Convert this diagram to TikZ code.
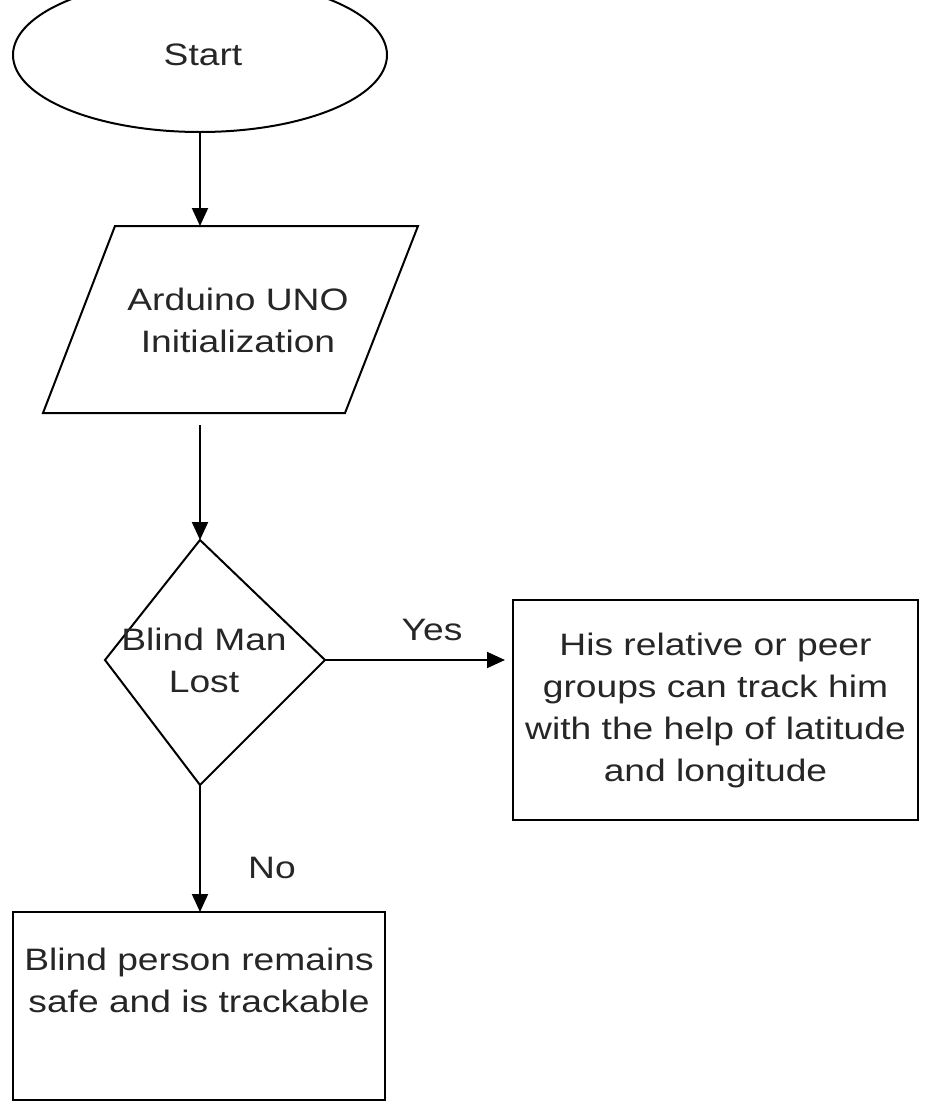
\documentclass[tikz,border=0pt]{standalone}
\usepackage{fontspec}
\setmainfont[FakeStretch=1.2]{Liberation Sans}
\usetikzlibrary{shapes.geometric,arrows.meta}
\begin{document}
\begin{tikzpicture}[x=1pt,y=-1pt,
  every node/.style={font=\fontsize{31}{42}\selectfont, text=black!85, align=center},
  line/.style={line width=2pt, draw=black},
  arr/.style={line width=2pt, -{Triangle[length=18pt,width=16pt]}}]
\useasboundingbox (0,0) rectangle (927,1103);
\begin{scope}
\clip (0,0) rectangle (927,1103);
\draw[line] (200,55) ellipse [x radius=187, y radius=77];
\end{scope}
\node (start) at (203,55) {Start};
\coordinate (startb) at (200,132);
\draw[line] (115,226) -- (418,226) -- (345,413) -- (43,413) -- cycle;
\node (init) at (238,320) {Arduino UNO\\Initialization};
\coordinate (initt) at (200,226);
\coordinate (initb) at (200,425);
\draw[line] (200,540) -- (325,660) -- (200,785) -- (105,660) -- cycle;
\node (dec) at (204,660) {Blind Man\\Lost};
\coordinate (dt) at (200,540);
\coordinate (dr) at (325,660);
\coordinate (db) at (200,785);
\node[draw, line width=2pt, minimum width=405pt, minimum height=220pt] (track) at (715.5,710) {His relative or peer\\groups can track him\\with the help of latitude\\and longitude};
\coordinate (trackw) at (505,660);
\node[draw, line width=2pt, minimum width=372pt, minimum height=188pt] (safe) at (199,1006) {};
\coordinate (safen) at (200,912);
\node (safet) at (199,980) {Blind person remains\\safe and is trackable};
\draw[arr] (startb) -- (initt);
\draw[arr] (initb) -- (dt);
\draw[arr] (dr) -- (trackw);
\node (yes) at (432,630) {Yes};
\draw[arr] (db) -- (safen);
\node (no) at (272,868) {No};
\end{tikzpicture}
\end{document}
